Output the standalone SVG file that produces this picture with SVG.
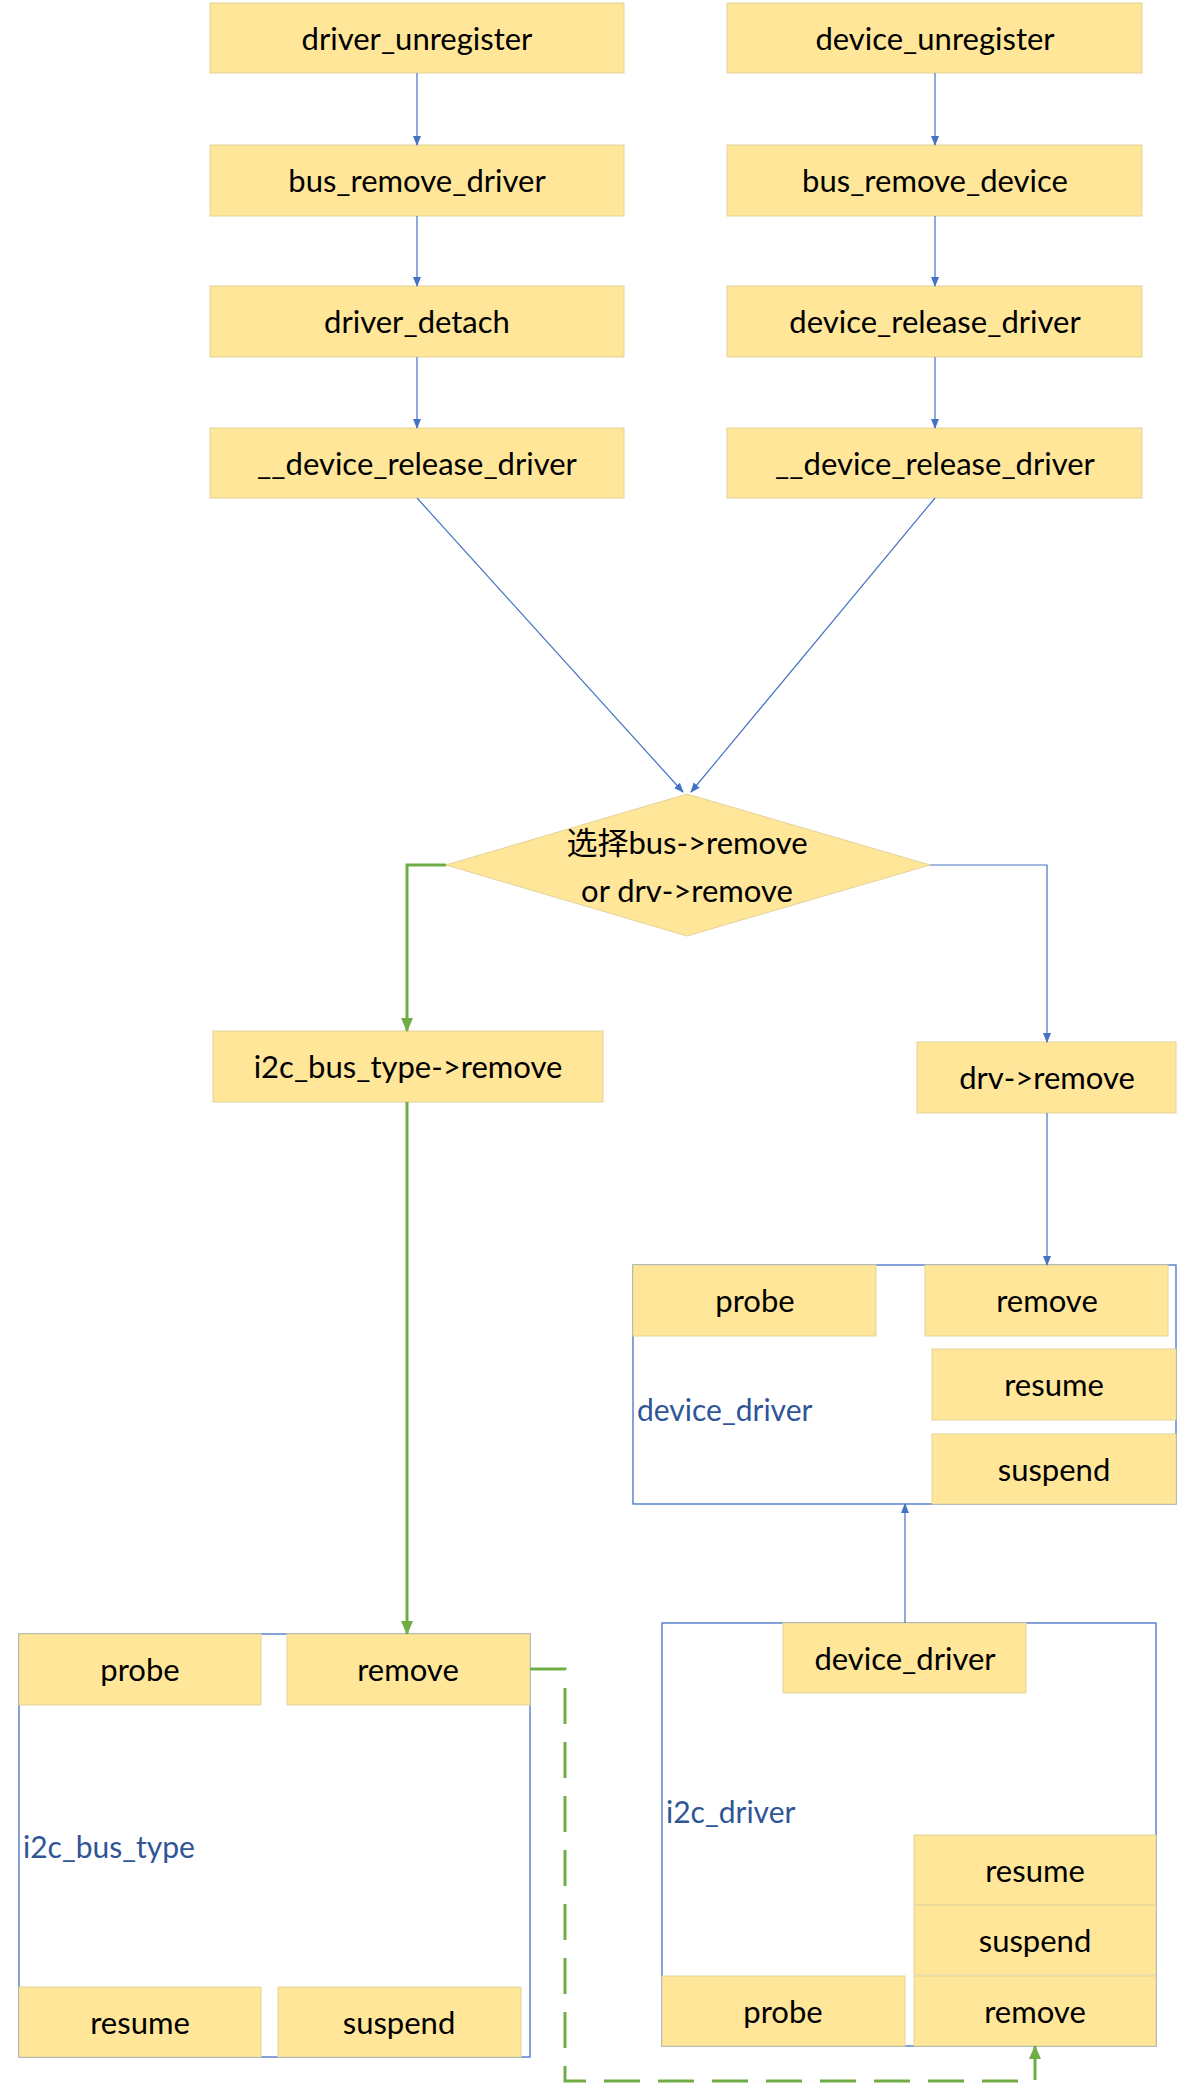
<svg xmlns="http://www.w3.org/2000/svg" width="1178" height="2085" viewBox="0 0 1178 2085">
<style>
.b{fill:#FFE699;stroke:#E2D39A;stroke-width:1}
.c{fill:none;stroke:#4472C4;stroke-width:1.2}
.t{font-family:Lato,"Noto Sans CJK SC",sans-serif;font-size:31px;fill:#000;text-anchor:middle;dominant-baseline:central}
.l{font-family:Lato,sans-serif;font-size:30px;fill:#2F5597;dominant-baseline:central}
.bl{fill:none;stroke:#4472C4;stroke-width:1.3}
.gr{fill:none;stroke:#70AD47;stroke-width:3}
</style>
<defs>
<marker id="ab" markerWidth="10" markerHeight="10" refX="9" refY="5" orient="auto" markerUnits="userSpaceOnUse"><path d="M0,1 L10,5 L0,9 Z" fill="#4472C4"/></marker>
<marker id="ag" markerWidth="14" markerHeight="14" refX="13" refY="7" orient="auto" markerUnits="userSpaceOnUse"><path d="M0,1 L14,7 L0,13 Z" fill="#70AD47"/></marker>
</defs>
<g id="n1"><rect class="b" x="210" y="3" width="414" height="70"/><text class="t" x="417" y="38">driver_unregister</text></g>
<g id="n2"><rect class="b" x="727" y="3" width="415" height="70"/><text class="t" x="935" y="38">device_unregister</text></g>
<g id="n3"><rect class="b" x="210" y="145" width="414" height="71"/><text class="t" x="417" y="180">bus_remove_driver</text></g>
<g id="n4"><rect class="b" x="727" y="145" width="415" height="71"/><text class="t" x="935" y="180">bus_remove_device</text></g>
<g id="n5"><rect class="b" x="210" y="286" width="414" height="71"/><text class="t" x="417" y="321">driver_detach</text></g>
<g id="n6"><rect class="b" x="727" y="286" width="415" height="71"/><text class="t" x="935" y="321">device_release_driver</text></g>
<g id="n7"><rect class="b" x="210" y="428" width="414" height="70"/><text class="t" x="417" y="463">__device_release_driver</text></g>
<g id="n8"><rect class="b" x="727" y="428" width="415" height="70"/><text class="t" x="935" y="463">__device_release_driver</text></g>
<g id="n9"><polygon class="b" points="687,794 930,865 687,936 446,865"/><text class="t" x="687" y="842">选择bus-&gt;remove</text><text class="t" x="687" y="890">or drv-&gt;remove</text></g>
<g id="n10"><rect class="b" x="213" y="1031" width="390" height="71"/><text class="t" x="408" y="1066">i2c_bus_type-&gt;remove</text></g>
<g id="n11"><rect class="b" x="917" y="1042" width="259" height="71"/><text class="t" x="1047" y="1077">drv-&gt;remove</text></g>
<g id="n12">
<rect class="bl" x="633" y="1265" width="543" height="239"/>
<text class="l" x="637" y="1409">device_driver</text>
<rect class="b" x="633" y="1265" width="243" height="71"/><text class="t" x="755" y="1300">probe</text>
<rect class="b" x="925" y="1265" width="243" height="71"/><text class="t" x="1047" y="1300">remove</text>
<rect class="b" x="932" y="1349" width="244" height="71"/><text class="t" x="1054" y="1384">resume</text>
<rect class="b" x="932" y="1434" width="244" height="70"/><text class="t" x="1054" y="1469">suspend</text>
</g>
<g id="n13">
<rect class="bl" x="662" y="1623" width="494" height="423"/>
<text class="l" x="666" y="1811">i2c_driver</text>
<rect class="b" x="783" y="1623" width="243" height="70"/><text class="t" x="905" y="1658">device_driver</text>
<rect class="b" x="914" y="1835" width="242" height="70"/><text class="t" x="1035" y="1870">resume</text>
<rect class="b" x="914" y="1905" width="242" height="70"/><text class="t" x="1035" y="1940">suspend</text>
<rect class="b" x="662" y="1976" width="243" height="70"/><text class="t" x="783" y="2011">probe</text>
<rect class="b" x="914" y="1976" width="242" height="70"/><text class="t" x="1035" y="2011">remove</text>
</g>
<g id="n14">
<rect class="bl" x="19" y="1634" width="511" height="423"/>
<text class="l" x="23" y="1846">i2c_bus_type</text>
<rect class="b" x="19" y="1634" width="242" height="71"/><text class="t" x="140" y="1669">probe</text>
<rect class="b" x="287" y="1634" width="243" height="71"/><text class="t" x="408" y="1669">remove</text>
<rect class="b" x="19" y="1987" width="242" height="70"/><text class="t" x="140" y="2022">resume</text>
<rect class="b" x="278" y="1987" width="243" height="70"/><text class="t" x="399" y="2022">suspend</text>
</g>
<g id="connectors">
<line class="c" x1="417" y1="73" x2="417" y2="145" marker-end="url(#ab)"/>
<line class="c" x1="935" y1="73" x2="935" y2="145" marker-end="url(#ab)"/>
<line class="c" x1="417" y1="216" x2="417" y2="286" marker-end="url(#ab)"/>
<line class="c" x1="935" y1="216" x2="935" y2="286" marker-end="url(#ab)"/>
<line class="c" x1="417" y1="357" x2="417" y2="428" marker-end="url(#ab)"/>
<line class="c" x1="935" y1="357" x2="935" y2="428" marker-end="url(#ab)"/>
<line class="c" x1="417" y1="498" x2="683" y2="792" marker-end="url(#ab)"/>
<line class="c" x1="935" y1="498" x2="691" y2="792" marker-end="url(#ab)"/>
<polyline class="c" points="930,865 1047,865 1047,1042" marker-end="url(#ab)"/>
<line class="c" x1="1047" y1="1113" x2="1047" y2="1265" marker-end="url(#ab)"/>
<line class="c" x1="905" y1="1623" x2="905" y2="1504" marker-end="url(#ab)"/>
<polyline class="gr" points="446,865 407,865 407,1031" marker-end="url(#ag)"/>
<line class="gr" x1="407" y1="1102" x2="407" y2="1634" marker-end="url(#ag)"/>
<polyline class="gr" points="530,1669 565,1669 565,2081 1035,2081 1035,2046" stroke-dasharray="36,18" marker-end="url(#ag)"/>
</g>
</svg>
